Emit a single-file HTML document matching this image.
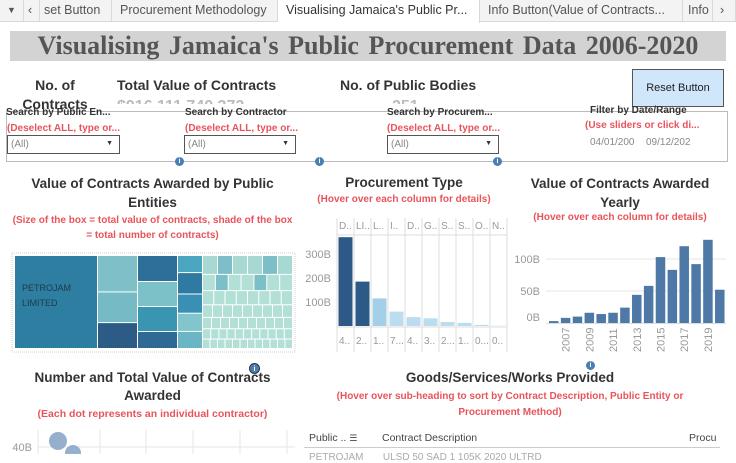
<!DOCTYPE html>
<html><head><meta charset="utf-8">
<style>
*{margin:0;padding:0;box-sizing:border-box}
body{width:736px;height:454px;overflow:hidden;background:#fff;font-family:"Liberation Sans","DejaVu Sans",sans-serif;position:relative}
.a{position:absolute;white-space:nowrap}
.tab{position:absolute;top:0;height:21px;border-right:1px solid #d8d8d8;font-size:12.5px;color:#555;line-height:20px;padding-left:8px;background:#f3f3f3;overflow:hidden}
.h{font-weight:bold;color:#333;font-size:13.5px;text-align:center}
.red{color:#e8545c;font-weight:bold;font-size:10px;text-align:center}
.fl{font-size:10px;font-weight:bold;color:#333}
.dd{position:absolute;height:19px;border:1px solid #555;font-size:10px;color:#888;padding:3px 0 0 3px;background:#fff}
.dd:after{content:"▼";position:absolute;right:6px;top:4px;font-size:7px;color:#333}
.info{position:absolute;width:9px;height:9px;border-radius:50%;background:#4a7fb5;color:#fff;font-size:7px;text-align:center;line-height:9px;font-weight:bold}
</style></head><body>
<div class="a" style="left:0;top:0;width:736px;height:22px;background:#f3f3f3;border-bottom:1px solid #d8d8d8"></div>
<div class="tab" style="left:0;width:24px;padding-left:7px;font-size:9px">▼</div>
<div class="tab" style="left:24px;width:16px;padding-left:4px">‹</div>
<div class="tab" style="left:40px;width:72px;padding-left:4px">set Button</div>
<div class="tab" style="left:112px;width:166px">Procurement Methodology</div>
<div class="tab" style="left:278px;width:202px;background:#fff;height:23px;color:#333">Visualising Jamaica's Public Pr...</div>
<div class="tab" style="left:480px;width:203px">Info Button(Value of Contracts...</div>
<div class="tab" style="left:683px;width:30px;padding-left:5px">Info</div>
<div class="tab" style="left:713px;width:23px;padding-left:7px">›</div>

<div class="a" style="left:10px;top:31px;width:716px;height:30px;background:#d3d3d3;font-family:'Liberation Serif',serif;font-weight:bold;font-size:26px;color:#555;text-align:center;line-height:30px;word-spacing:3px">Visualising Jamaica's Public Procurement Data 2006-2020</div>

<div class="a h" style="left:20px;top:76px;width:70px;height:34px;overflow:hidden;font-size:14px;line-height:19px">No. of<br>Contracts</div>
<div class="a h" style="left:117px;top:77px;font-size:14px">Total Value of Contracts</div>
<div class="a" style="left:117px;top:98px;height:6px;overflow:hidden;font-size:16px;color:#bbb;font-weight:bold">$916,111,740,372</div>
<div class="a h" style="left:340px;top:77px;font-size:14px">No. of Public Bodies</div>
<div class="a" style="left:392px;top:98px;height:6px;overflow:hidden;font-size:16px;color:#bbb;font-weight:bold">251</div>
<div class="a" style="left:632px;top:69px;width:92px;height:38px;background:#cfe6fb;border:1px solid #555;font-size:11px;color:#222;text-align:center;line-height:36px">Reset Button</div>

<div class="a" style="left:6px;top:111px;width:722px;height:51px;border:1px solid #bbb"></div>
<div class="a fl" style="left:6px;top:107px">Search by Public En...</div>
<div class="a red" style="left:7px;top:123px">(Deselect ALL, type or...</div>
<div class="dd" style="left:7px;top:135px;width:113px">(All)</div>
<div class="a fl" style="left:185px;top:107px">Search by Contractor</div>
<div class="a red" style="left:185px;top:123px">(Deselect ALL, type or...</div>
<div class="dd" style="left:184px;top:135px;width:112px">(All)</div>
<div class="a fl" style="left:387px;top:107px">Search by Procurem...</div>
<div class="a red" style="left:387px;top:123px">(Deselect ALL, type or...</div>
<div class="dd" style="left:387px;top:135px;width:112px">(All)</div>
<div class="a fl" style="left:590px;top:105px">Filter by Date/Range</div>
<div class="a red" style="left:585px;top:120px">(Use sliders or click di...</div>
<div class="a" style="left:590px;top:137px;font-size:10px;color:#888">04/01/200</div>
<div class="a" style="left:646px;top:137px;font-size:10px;color:#888">09/12/202</div>
<div class="info" style="left:175px;top:157px">i</div>
<div class="info" style="left:315px;top:157px">i</div>
<div class="info" style="left:493px;top:157px">i</div>

<div class="a h" style="left:10px;top:174px;width:285px;white-space:normal;line-height:19px">Value of Contracts Awarded by Public Entities</div>
<div class="a red" style="left:10px;top:213px;width:285px;white-space:normal;line-height:15px">(Size of the box = total value of contracts, shade of the box = total number of contracts)</div>
<svg class="a" style="left:0;top:240px" width="300" height="120" id="tm"></svg>

<div class="a h" style="left:300px;top:175px;width:208px">Procurement Type</div>
<div class="a red" style="left:300px;top:194px;width:208px">(Hover over each column for details)</div>
<svg class="a" style="left:300px;top:210px" width="215" height="150" id="pt"></svg>

<div class="a h" style="left:515px;top:174px;width:210px;white-space:normal;line-height:19px">Value of Contracts Awarded Yearly</div>
<div class="a red" style="left:515px;top:212px;width:210px">(Hover over each column for details)</div>
<svg class="a" style="left:510px;top:230px" width="226" height="130" id="yc"></svg>

<div class="info" style="left:249px;top:363px;width:11px;height:11px;line-height:11px;border:1px solid #333">i</div>
<div class="a h" style="left:20px;top:369px;width:265px;white-space:normal;line-height:18px">Number and Total Value of Contracts Awarded</div>
<div class="a red" style="left:10px;top:408px;width:285px;font-size:10.5px">(Each dot represents an individual contractor)</div>
<svg class="a" style="left:0;top:428px" width="300" height="26" id="sc"></svg>

<div class="info" style="left:586px;top:361px">i</div>
<div class="a h" style="left:300px;top:370px;width:420px">Goods/Services/Works Provided</div>
<div class="a red" style="left:310px;top:389px;width:400px;white-space:normal;line-height:16px">(Hover over sub-heading to sort by Contract Description, Public Entity or Procurement Method)</div>
<div class="a" style="left:309px;top:432px;font-size:10.5px;color:#444">Public .. <span style="font-size:9px">☰</span></div>
<div class="a" style="left:382px;top:432px;font-size:10.5px;color:#444">Contract Description</div>
<div class="a" style="left:689px;top:432px;font-size:10.5px;color:#444;width:30px;overflow:hidden">Procu</div>
<div class="a" style="left:304px;top:447px;width:416px;height:1px;background:#ccc"></div>
<div class="a" style="left:309px;top:452px;font-size:10px;color:#aaa">PETROJAM &nbsp;&nbsp;&nbsp;&nbsp;&nbsp;&nbsp;ULSD 50 SAD 1 105K 2020 ULTRD</div>

<script>
const NS="http://www.w3.org/2000/svg";
function mk(p,t,a){const e=document.createElementNS(NS,t);for(const k in a)e.setAttribute(k,a[k]);p.appendChild(e);return e;}

// ---------- Treemap ----------
const tmColumns=[[100],[38,32,27],[26,25,25,17],[16,20,18,17,16]];
const tmColors=[["#2e7ea1"],["#7fc0c8","#76bac6","#2c5b86"],["#2d6f99","#7cc0c8","#3a95b3","#2f6a95"],["#4aa7bf","#2f7aa0","#3a8fb5","#83c5cc","#6ab6c4"]];
const tmSmallRows=[6,7,8,9,10,11,12];
const tm=document.getElementById('tm');
{
  const x0=15,y0=16,W=278,H=93;
  mk(tm,'rect',{x:12,y:13,width:283,height:99,fill:'none',stroke:'#ccc','stroke-dasharray':'1,1'});
  const colW=[83,40,40,25];
  let x=x0;
  tmColumns.forEach((col,ci)=>{
    const s=col.reduce((a,b)=>a+b,0);let y=y0;
    col.forEach((v,ri)=>{const h=v/s*H;
      const r=mk(tm,'rect',{x:x,y:y,width:colW[ci]-1,height:h-1,fill:tmColors[ci][ri]});
      
      
      y+=h;});
    x+=colW[ci];
  });
  const restW=x0+W-x;let y=y0;const rs=tmSmallRows.reduce((a,b)=>a+1/b,0);
  tmSmallRows.forEach((n,ri)=>{const h=(1/n)/rs*H;const w=restW/n;
    for(let i=0;i<n;i++){const r=mk(tm,'rect',{x:x+i*w,y:y,width:w-1,height:h-1,fill:(ri<2&&i%3==1)?'#7dbfc8':(ri==0?'#a8d8d2':'#b3e0d6')});
      
      }
    y+=h;});
  const t=mk(tm,'text',{x:22,y:51,'font-size':9,fill:'#1d3a4a','font-family':'Liberation Sans'});t.textContent='PETROJAM';
  const t2=mk(tm,'text',{x:22,y:50+16,'font-size':9,fill:'#1d3a4a','font-family':'Liberation Sans'});t2.textContent='LIMITED';
}

// ---------- Procurement type ----------
const ptHeaders=["D..","LI..","L..","I..","D..","G..","S..","S..","O..","N.."];
const ptFooters=["4..","2..","1..","7...","4..","3..","2...","1..","0...","0.."];
const ptValues=[370,185,115,60,37,32,17,13,5,1];
const ptTicks=[100,200,300];
const pt=document.getElementById('pt');
{
  const px0=37,cw=17,base=116,sc=0.24;
  const yv=v=>base-v*sc;
  mk(pt,'line',{x1:px0,x2:px0+cw*10,y1:25,y2:25,stroke:'#ddd'});
  mk(pt,'line',{x1:px0,x2:px0+cw*10,y1:base+1,y2:base+1,stroke:'#ddd'});
  for(let i=0;i<=10;i++)mk(pt,'line',{x1:px0+i*cw,x2:px0+i*cw,y1:8,y2:142,stroke:'#ddd'});
  ptTicks.forEach(t=>{const e=mk(pt,'text',{x:31,y:yv(t)+4,'text-anchor':'end','font-size':11,fill:'#999','font-family':'Liberation Sans'});e.textContent=t+'B';});
  ptValues.forEach((v,i)=>{
    const r=mk(pt,'rect',{x:px0+i*cw+1.5,y:yv(v),width:cw-3,height:v*sc,fill:i<2?'#2c5986':(i<3?'#a4cfe9':'#bcdcf0')});
    
    
    const h=mk(pt,'text',{x:px0+i*cw+2,y:19,'font-size':10,fill:'#999','font-family':'Liberation Sans'});h.textContent=ptHeaders[i];
    const f=mk(pt,'text',{x:px0+i*cw+2,y:134,'font-size':10,fill:'#999','font-family':'Liberation Sans'});f.textContent=ptFooters[i];
  });
}

// ---------- Yearly ----------
const ycYears=[2006,2007,2008,2009,2010,2011,2012,2013,2014,2015,2016,2017,2018,2019,2020];
const ycValues=[3,8,10,16,14,16,24,44,58,103,83,120,92,130,52];
const ycTicks=[0,50,100];
const yc=document.getElementById('yc');
{
  const x0=39,step=11.86,bw=9.5,base=93,sc=0.64;
  const yv=v=>base-v*sc;
  ycTicks.forEach(t=>{if(t>0)mk(yc,'line',{x1:36,x2:216,y1:yv(t),y2:yv(t),stroke:'#e6e6e6'});
    const e=mk(yc,'text',{x:30,y:(t==0?yv(t)-2:yv(t)+4),'text-anchor':'end','font-size':11,fill:'#999','font-family':'Liberation Sans'});e.textContent=t+'B';});
  mk(yc,'line',{x1:36,x2:216,y1:base+0.5,y2:base+0.5,stroke:'#ddd'});
  ycValues.forEach((v,i)=>{
    const r=mk(yc,'rect',{x:x0+i*step,y:yv(v),width:bw,height:v*sc,fill:'#4e79a7'});
    
    
    if(ycYears[i]%2==1){const cx=x0+i*step+bw/2+4;const t=mk(yc,'text',{x:cx,y:122,'font-size':11,fill:'#999','font-family':'Liberation Sans',transform:`rotate(-90 ${cx} 122)`});t.textContent=ycYears[i];}
  });
}

// ---------- Scatter ----------
const scCounts=[8,14];
const scValues=[42,38];
const scRadius=[9,8];
const sc=document.getElementById('sc');
{
  const xv=c=>38+c*2.5, yv=v=>19-(v-40)*3;
  [38,100,146,193,240,287].forEach(x=>mk(sc,'line',{x1:x,x2:x,y1:2,y2:26,stroke:'#e6e6e6'}));
  mk(sc,'line',{x1:38,x2:295,y1:19,y2:19,stroke:'#e6e6e6'});
  const t=mk(sc,'text',{x:32,y:23,'text-anchor':'end','font-size':11,fill:'#999','font-family':'Liberation Sans'});t.textContent='40B';
  scCounts.forEach((c,i)=>{const d=mk(sc,'circle',{cx:xv(c),cy:yv(scValues[i]),r:scRadius[i],fill:'#8aa6c8',opacity:0.9});
    
    });
}
</script>
</body></html>
